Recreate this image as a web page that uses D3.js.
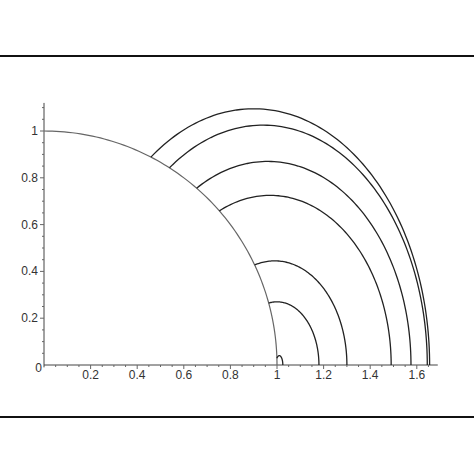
<!DOCTYPE html>
<html><head><meta charset="utf-8">
<script src="https://cdn.jsdelivr.net/npm/d3@7"></script>
<style>body{margin:0;background:#fff}</style>
</head><body>
<svg id="c" width="474" height="474"></svg>
<script>
// level curves: centre x, right end on x-axis, peak height
const centres = [1.01, 1.0, 0.99, 0.97, 0.96, 0.94, 0.9];
const ends    = [1.025, 1.18, 1.30, 1.49, 1.575, 1.645, 1.655];
const peaks   = [0.04, 0.27, 0.445, 0.725, 0.87, 1.025, 1.095];
const xTicks = [0.2, 0.4, 0.6, 0.8, 1, 1.2, 1.4, 1.6];
const yTicks = [0.2, 0.4, 0.6, 0.8, 1];

const svg = d3.select("#c");
const x = d3.scaleLinear().domain([0, 1]).range([44, 277]);
const y = d3.scaleLinear().domain([0, 1]).range([365, 131]);

// frame rules
[56, 417].forEach(v => svg.append("line").attr("x1", 0).attr("x2", 474)
  .attr("y1", v).attr("y2", v).attr("stroke", "#111").attr("stroke-width", 2));

const gx = svg.append("g").attr("transform", `translate(0,${y(0)})`);
gx.append("line").attr("x1", x(0)).attr("x2", x(1.69)).attr("stroke", "#444");
gx.selectAll(".m").data(d3.range(1, 34)).join("line")
  .attr("x1", d => x(d * 0.05)).attr("x2", d => x(d * 0.05))
  .attr("y1", 0).attr("y2", d => d % 4 === 0 ? 4 : 2).attr("stroke", "#666");
gx.selectAll("text").data(xTicks).join("text")
  .attr("x", d => x(d)).attr("y", 14).attr("text-anchor", "middle")
  .attr("font-family", "Liberation Sans, Arial").attr("font-size", 12).attr("fill", "#333")
  .text(d => d);

const gy = svg.append("g").attr("transform", `translate(${x(0)},0)`);
gy.append("line").attr("y1", y(-0.01)).attr("y2", y(1.12)).attr("stroke", "#444");
gy.selectAll(".m").data(d3.range(1, 23)).join("line")
  .attr("y1", d => y(d * 0.05)).attr("y2", d => y(d * 0.05))
  .attr("x1", 0).attr("x2", d => d % 4 === 0 ? -4 : -2).attr("stroke", "#666");
gy.selectAll("text").data([0, ...yTicks]).join("text")
  .attr("x", d => d === 0 ? -2 : -6).attr("y", d => y(d) + (d === 0 ? 7 : 4))
  .attr("text-anchor", "end")
  .attr("font-family", "Liberation Sans, Arial").attr("font-size", 12).attr("fill", "#333")
  .text(d => d);

// unit quarter circle
const line = d3.line().x(p => x(p[0])).y(p => y(p[1]));
const circ = d3.range(0, 91).map(a => [Math.cos(a * Math.PI / 180), Math.sin(a * Math.PI / 180)]);
svg.append("path").attr("d", line(circ)).attr("fill", "none").attr("stroke", "#666").attr("stroke-width", 1.2);

// half-ellipse arcs clipped at the unit circle
centres.forEach((cx, i) => {
  const rx = ends[i] - cx, ry = peaks[i];
  const pt = t => [cx + rx * Math.cos(t), ry * Math.sin(t)];
  let lo = 0, hi = Math.PI;
  for (let k = 0; k < 40; k++) {
    const m = (lo + hi) / 2, p = pt(m);
    if (p[0] * p[0] + p[1] * p[1] > 1) lo = m; else hi = m;
  }
  const pts = d3.range(0, 101).map(k => pt(lo * k / 100));
  svg.append("path").attr("d", line(pts)).attr("fill", "none")
    .attr("stroke", "#222").attr("stroke-width", 1.3);
});
</script>
</body></html>
